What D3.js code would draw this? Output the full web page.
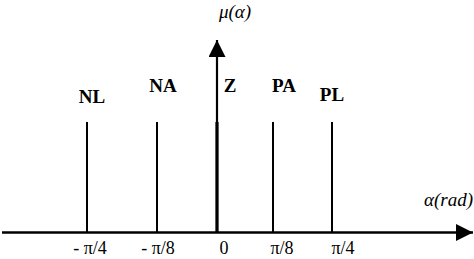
<!DOCTYPE html>
<html>
<head>
<meta charset="utf-8">
<script src="https://cdn.jsdelivr.net/npm/d3@7"></script>
<style>
  body { margin: 0; background: #fff; }
  svg { display: block; }
  text { font-family: "Liberation Serif", "Times New Roman", serif; fill: #000; }
</style>
</head>
<body>
<div id="chart"></div>
<script>
// fuzzy sets (singletons) on the angle axis
const setNames = ["NL", "NA", "Z", "PA", "PL"];
const setAngles = [-Math.PI / 4, -Math.PI / 8, 0, Math.PI / 8, Math.PI / 4];
const setDegree = [1, 1, 1, 1, 1];
const tickLabels = ["- \u03c0/4", "- \u03c0/8", "0", "\u03c0/8", "\u03c0/4"];

const width = 474, height = 259;
const axisY = 232.5, axisX = 217;

const svg = d3.select("#chart").append("svg")
  .attr("width", width)
  .attr("height", height);

// the drawing is not quite evenly spaced, so a piecewise scale
const x = d3.scaleLinear()
  .domain(setAngles)
  .range([87, 157, axisX, 273, 332]);

const y = d3.scaleLinear()
  .domain([0, 1])
  .range([axisY, 122]);

const defs = svg.append("defs");
defs.append("marker")
  .attr("id", "arrow")
  .attr("viewBox", "0 0 10 10")
  .attr("refX", 10).attr("refY", 5)
  .attr("markerUnits", "userSpaceOnUse")
  .attr("markerWidth", 19).attr("markerHeight", 17)
  .attr("orient", "auto")
  .append("path")
  .attr("d", "M0,0 L10,5 L0,10 Z")
  .attr("fill", "#000");

// horizontal axis
svg.append("line")
  .attr("x1", 2).attr("x2", 473)
  .attr("y1", axisY).attr("y2", axisY)
  .attr("stroke", "#000").attr("stroke-width", 2.4)
  .attr("marker-end", "url(#arrow)");

// vertical axis
svg.append("line")
  .attr("x1", axisX).attr("x2", axisX)
  .attr("y1", axisY).attr("y2", 40)
  .attr("stroke", "#000").attr("stroke-width", 2.2)
  .attr("marker-end", "url(#arrow)");

// singletons
svg.selectAll("line.bar")
  .data(setAngles)
  .enter()
  .append("line")
  .attr("class", "bar")
  .attr("x1", d => x(d)).attr("x2", d => x(d))
  .attr("y1", y(0))
  .attr("y2", (d, i) => y(setDegree[i]))
  .attr("stroke", "#000")
  .attr("stroke-width", (d, i) => setNames[i] === "Z" ? 3.2 : 2);

// set names above the bars
const labelDx = [5, 6, 13, 11, 0];
const labelY = [103, 92, 92, 92, 101];
svg.selectAll("text.name")
  .data(setNames)
  .enter()
  .append("text")
  .attr("class", "name")
  .attr("x", (d, i) => x(setAngles[i]) + labelDx[i])
  .attr("y", (d, i) => labelY[i])
  .attr("text-anchor", "middle")
  .attr("font-weight", "bold")
  .attr("font-size", 19)
  .text(d => d);

// tick labels under the axis
const tickDx = [3, 1, 7, 9, 11];
svg.selectAll("text.tick")
  .data(tickLabels)
  .enter()
  .append("text")
  .attr("class", "tick")
  .attr("x", (d, i) => x(setAngles[i]) + tickDx[i])
  .attr("y", 254)
  .attr("text-anchor", "middle")
  .attr("font-size", 18)
  .text(d => d);

// axis titles
svg.append("text")
  .attr("x", 235).attr("y", 18)
  .attr("text-anchor", "middle")
  .attr("font-style", "italic")
  .attr("font-size", 19)
  .text("\u03bc(\u03b1)");

svg.append("text")
  .attr("x", 473).attr("y", 206)
  .attr("text-anchor", "end")
  .attr("font-style", "italic")
  .attr("font-size", 19)
  .text("\u03b1(rad)");
</script>
</body>
</html>
